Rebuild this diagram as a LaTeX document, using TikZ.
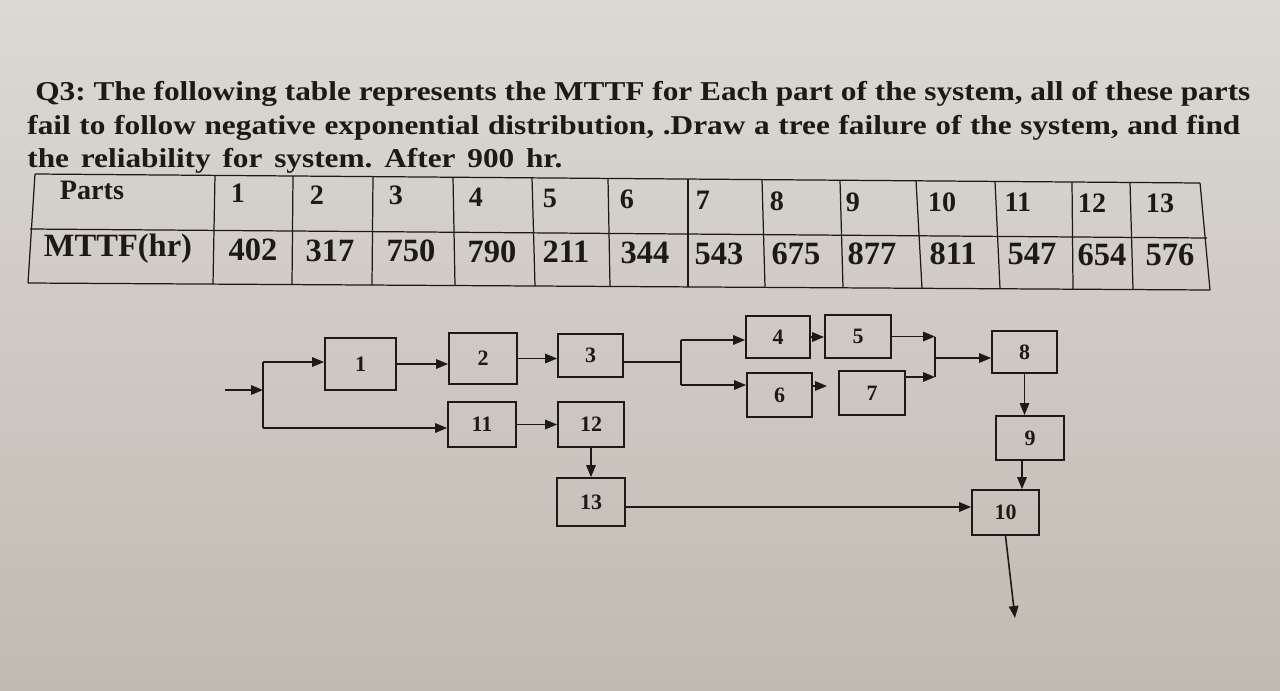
\documentclass[tikz,border=0pt]{standalone}
\usepackage{fontspec}
\setmainfont{Liberation Serif}
\newfontfamily\widefont{Liberation Serif}[FakeStretch=1.15]
\usetikzlibrary{arrows.meta,calc}
\definecolor{paperTop}{RGB}{220,217,211}
\definecolor{paperBot}{RGB}{192,186,178}
\definecolor{ink}{RGB}{28,25,23}
\newlength{\pxlen}
\setlength{\pxlen}{0.02cm}
\frenchspacing
\tikzset{
  titleline/.style={anchor=base west, inner sep=0pt, text=ink,
    font=\widefont\bfseries\fontsize{15.5}{17}\selectfont},
  headcell/.style={inner sep=0pt, text=ink, font=\bfseries\fontsize{16}{18}\selectfont},
  valcell/.style={inner sep=0pt, text=ink, font=\bfseries\fontsize{18.5}{20}\selectfont},
  tabline/.style={draw=ink, line width=0.7pt},
  blk/.style 2 args={draw=ink, line width=1pt, inner sep=0pt, text=ink,
    minimum width=#1*0.02cm, minimum height=#2*0.02cm,
    font=\bfseries\fontsize{12.5}{14}\selectfont},
  wire/.style={draw=ink, line width=0.9pt},
  arr/.style={wire, -{Triangle[length=0.24cm,width=0.19cm]}}
}
\begin{document}
\begin{tikzpicture}[x=0.02cm,y=-0.02cm]
\useasboundingbox (0,0) rectangle (1280,690);
\shade[top color=paperTop, bottom color=paperBot] (0,0) rectangle (1280,690);

% title
\node[titleline] (t1) at (35,100) {\makebox[1215\pxlen][s]{Q3: The following table represents the MTTF for Each part of the system, all of these parts}};
\node[titleline] (t2) at (27,134) {\makebox[1213\pxlen][s]{fail to follow negative exponential distribution, .Draw a tree failure of the system, and find}};
\node[titleline] (t3) at (27,167) {\makebox[535\pxlen][s]{the reliability for system. After 900 hr.}};

% table lines
\draw[tabline] (35,174) -- (1200,183);
\draw[tabline] (30,229) -- (1207,238);
\draw[tabline] (28,283) -- (1210,290);
\foreach \xa/\xb/\ya/\yb in {35/28/174/283, 215/213/175.4/284.1, 293/292/176/284.5,
  373/372/176.6/285, 453/455/177.2/285.5, 532/535/177.8/285.9, 608/610/178.4/286.4,
  688/688/179/286.9, 762/765/179.6/287.3, 840/843/180.2/287.8, 916/922/180.8/288.2,
  995/1000/181.4/288.7, 1072/1073/182/289.2, 1130/1133/182.5/289.5, 1200/1210/183/290}
  \draw[tabline] (\xa,\ya) -- (\xb,\yb);

% table text
\node[headcell] (hp) at (92,190) {Parts};
\foreach \n/\x/\y in {1/238/193, 2/317/195, 3/396/195, 4/476/197, 5/550/198, 6/627/199,
  7/703/200, 8/777/201, 9/853/202, 10/942/202, 11/1018/202, 12/1092/203, 13/1160/203}
  \node[headcell] (h\n) at (\x,\y) {\n};
\node[valcell] (hm) at (118,249) {MTTF(hr)};
\foreach \n/\v/\x/\y in {1/402/253/250, 2/317/330/251, 3/750/411/251, 4/790/492/252,
  5/211/566/252, 6/344/645/253, 7/543/719/254, 8/675/796/254, 9/877/872/254,
  10/811/953/254, 11/547/1032/254, 12/654/1102/255, 13/576/1170/255}
  \node[valcell] (v\n) at (\x,\y) {\v};

% blocks
\node[blk={71}{52}] (b1) at (360.5,364) {1};
\node[blk={68}{51}] (b2) at (483,358.5) {2};
\node[blk={65}{43}] (b3) at (590.5,355.5) {3};
\node[blk={68}{45}] (b11) at (482,424.5) {11};
\node[blk={66}{45}] (b12) at (591,424.5) {12};
\node[blk={64}{42}] (b4) at (778,337) {4};
\node[blk={66}{43}] (b5) at (858,336.5) {5};
\node[blk={65}{44}] (b6) at (779.5,395) {6};
\node[blk={66}{44}] (b7) at (872,393) {7};
\node[blk={65}{42}] (b8) at (1024.5,352) {8};
\node[blk={68}{44}] (b9) at (1030,438) {9};
\node[blk={68}{48}] (b13) at (591,502) {13};
\node[blk={67}{45}] (b10) at (1005.5,512.5) {10};

% connectors
\coordinate (in) at (225,390);
\coordinate (j1) at (263,390);
\coordinate (j1t) at (263,362);
\coordinate (j1b) at (263,428);
\draw[arr] (in) -- (j1);
\draw[wire] (j1t) -- (j1b);
\draw[arr] (j1t) -- (j1t -| b1.west);
\draw[arr] (j1b) -- (j1b -| b11.west);
\draw[arr] (b1.east) -- (b1.east -| b2.west);
\draw[arr] (b2.east) -- (b2.east -| b3.west);
\draw[arr] (b11.east) -- (b11.east -| b12.west);

\coordinate (j2) at (681,362);
\coordinate (j2t) at (681,340);
\coordinate (j2b) at (681,385);
\draw[wire] (j2 -| b3.east) -- (j2);
\draw[wire] (j2t) -- (j2b);
\draw[arr] (j2t) -- (j2t -| b4.west);
\draw[arr] (j2b) -- (j2b -| b6.west);
\draw[arr] (b4.east) -- (b4.east -| b5.west);
\coordinate (g7) at (827,386);
\draw[arr] (g7 -| b6.east) -- (g7);

\coordinate (j3t) at (935,336.5);
\coordinate (j3b) at (935,377);
\coordinate (j3m) at (935,358);
\draw[wire] (j3t) -- (j3b);
\draw[arr] (b5.east) -- (j3t);
\draw[arr] (b7.east |- j3b) -- (j3b);
\draw[arr] (j3m) -- (j3m -| b8.west);
\draw[arr] (b8.south) -- (b8.south |- b9.north);
\coordinate (c910) at (1022,0);
\draw[arr] (b9.south -| c910) -- (b10.north -| c910);
\draw[arr] (b12.south) -- (b12.south |- b13.north);
\coordinate (r13) at (0,507);
\draw[arr] (b13.east |- r13) -- (b10.west |- r13);
\coordinate (out) at (1015,618);
\draw[arr] (b10.south) -- (out);
\end{tikzpicture}
\end{document}
